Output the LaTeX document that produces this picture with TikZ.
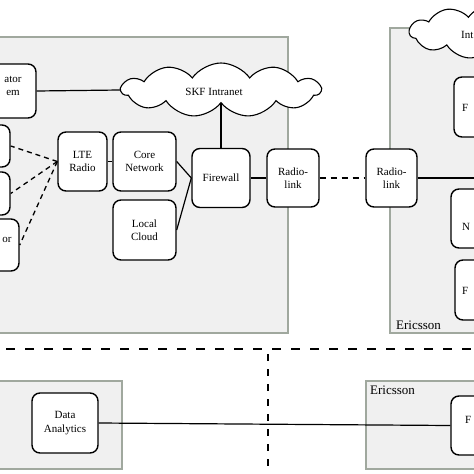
\documentclass[tikz,border=0pt]{standalone}
\usepackage{fontspec}
\setmainfont{Liberation Serif}
\usetikzlibrary{shapes.symbols}
\definecolor{regfill}{HTML}{F0F0F0}
\definecolor{regline}{HTML}{A0A89E}
\tikzset{
  region/.style={fill=regfill, draw=regline, line width=1.2pt},
  box/.style={draw=black, fill=white, line width=1.4pt, rounded corners=8pt, inner sep=0pt},
  txt/.style={font=\fontsize{11}{13.5}\selectfont, align=center, inner sep=0pt},
  lbl/.style={font=\fontsize{13}{15}\selectfont, inner sep=0pt},
  conn/.style={draw=black, line width=1.2pt},
  dconn/.style={draw=black, line width=1.3pt, dash pattern=on 5pt off 4pt},
  cloudy/.style={cloud, cloud puffs=11, cloud puff arc=110, cloud ignores aspect, draw=black, fill=white, line width=1.1pt, inner sep=0pt},
  sep/.style={draw=black, line width=2pt, dash pattern=on 9pt off 10pt}
}
\begin{document}
\begin{tikzpicture}[x=1pt,y=-1pt]
\useasboundingbox (0,0) rectangle (474,474);
\clip (0,0) rectangle (474,474);
\fill[white] (0,0) rectangle (474,474);
% regions
\draw[region] (-20,37) rectangle (288,333);
\draw[region] (390,28) rectangle (520,333);
\node[lbl, anchor=south west] (eric1) at (396,330) {Ericsson};
\draw[region] (-20,381) rectangle (122,469);
\draw[region] (366,381) rectangle (520,469);
\node[lbl, anchor=north west] (eric2) at (370,386) {Ericsson};
% separators
\draw[sep] (6,349) -- (480,349);
\draw[draw=black, line width=1.8pt, dash pattern=on 7pt off 8pt] (268,354) -- (268,480);
% clouds
\node[cloudy, minimum width=199pt, minimum height=54pt] (skf) at (221,90) {};
\node[txt] (skft) at (214,92) {SKF Intranet};
\node[cloudy, minimum width=165pt, minimum height=54pt] (inet) at (492,32) {};
\node[txt, anchor=west] (inett) at (461,35) {Int};
% left cut-off nodes
\node[box, minimum width=66pt, minimum height=54pt] (sim) at (3,91) {};
\node[txt] (simt) at (13,86) {ator\\em};
\node[box, minimum width=60pt, minimum height=42pt] (b2) at (-20,146) {};
\node[box, minimum width=60pt, minimum height=43pt] (b3) at (-20,193.5) {};
\node[box, minimum width=60pt, minimum height=52pt] (b4) at (-11,245) {};
\node[txt] (b4t) at (7,240) {or};
% main nodes
\node[box, minimum width=49pt, minimum height=59pt] (lte) at (82.5,161.5) {};
\node[txt] (ltet) at (lte) {LTE\\Radio};
\node[box, minimum width=63pt, minimum height=59pt] (core) at (144.5,161.5) {};
\node[txt] (coret) at (core) {Core\\Network};
\node[box, minimum width=63pt, minimum height=60pt] (lc) at (144.5,230) {};
\node[txt] (lct) at (lc) {Local\\Cloud};
\node[box, minimum width=58pt, minimum height=59pt] (fw) at (221,178) {};
\node[txt] (fwt) at (fw) {Firewall};
\node[box, minimum width=52pt, minimum height=58pt] (rl1) at (293,178) {};
\node[txt] (rl1t) at (rl1) {Radio-\\link};
\node[box, minimum width=51pt, minimum height=58pt] (rl2) at (391.5,178) {};
\node[txt] (rl2t) at (rl2) {Radio-\\link};
% right cut-off nodes
\node[box, minimum width=76pt, minimum height=60pt] (f1) at (492,107) {};
\node[txt, anchor=west] (f1t) at (462,108) {F};
\node[box, minimum width=76pt, minimum height=59pt] (n1) at (489,218.5) {};
\node[txt, anchor=west] (n1t) at (462,227) {N};
\node[box, minimum width=76pt, minimum height=60pt] (f2) at (493,290) {};
\node[txt, anchor=west] (f2t) at (462,291) {F};
% bottom nodes
\node[box, minimum width=66pt, minimum height=60pt] (da) at (65,423) {};
\node[txt] (dat) at (da) {Data\\Analytics};
\node[box, minimum width=76pt, minimum height=59pt] (f3) at (489,425.5) {};
\node[txt, anchor=west] (f3t) at (465,420) {F};
% connectors
\coordinate (rend) at (480,178);
\draw[conn] (sim.east) -- (skf.west);
\draw[conn] (fw.north) -- (skf.south);
\draw[conn] (lte.east) -- (core.west);
\draw[conn] (core.east) -- (fw.west);
\draw[conn] (lc.east) -- (fw.west);
\draw[conn] (fw.east) -- (rl1.west);
\draw[dconn, dash pattern=on 6pt off 5pt] (rl1.east) -- (rl2.west);
\draw[conn] (rl2.east) -- (rend);
\draw[dconn] (lte.west) -- (b2.east);
\draw[dconn] (lte.west) -- (b3.east);
\draw[dconn] (lte.west) -- (b4.east);
\draw[conn] (da.east) -- (f3.west);
\end{tikzpicture}
\end{document}
